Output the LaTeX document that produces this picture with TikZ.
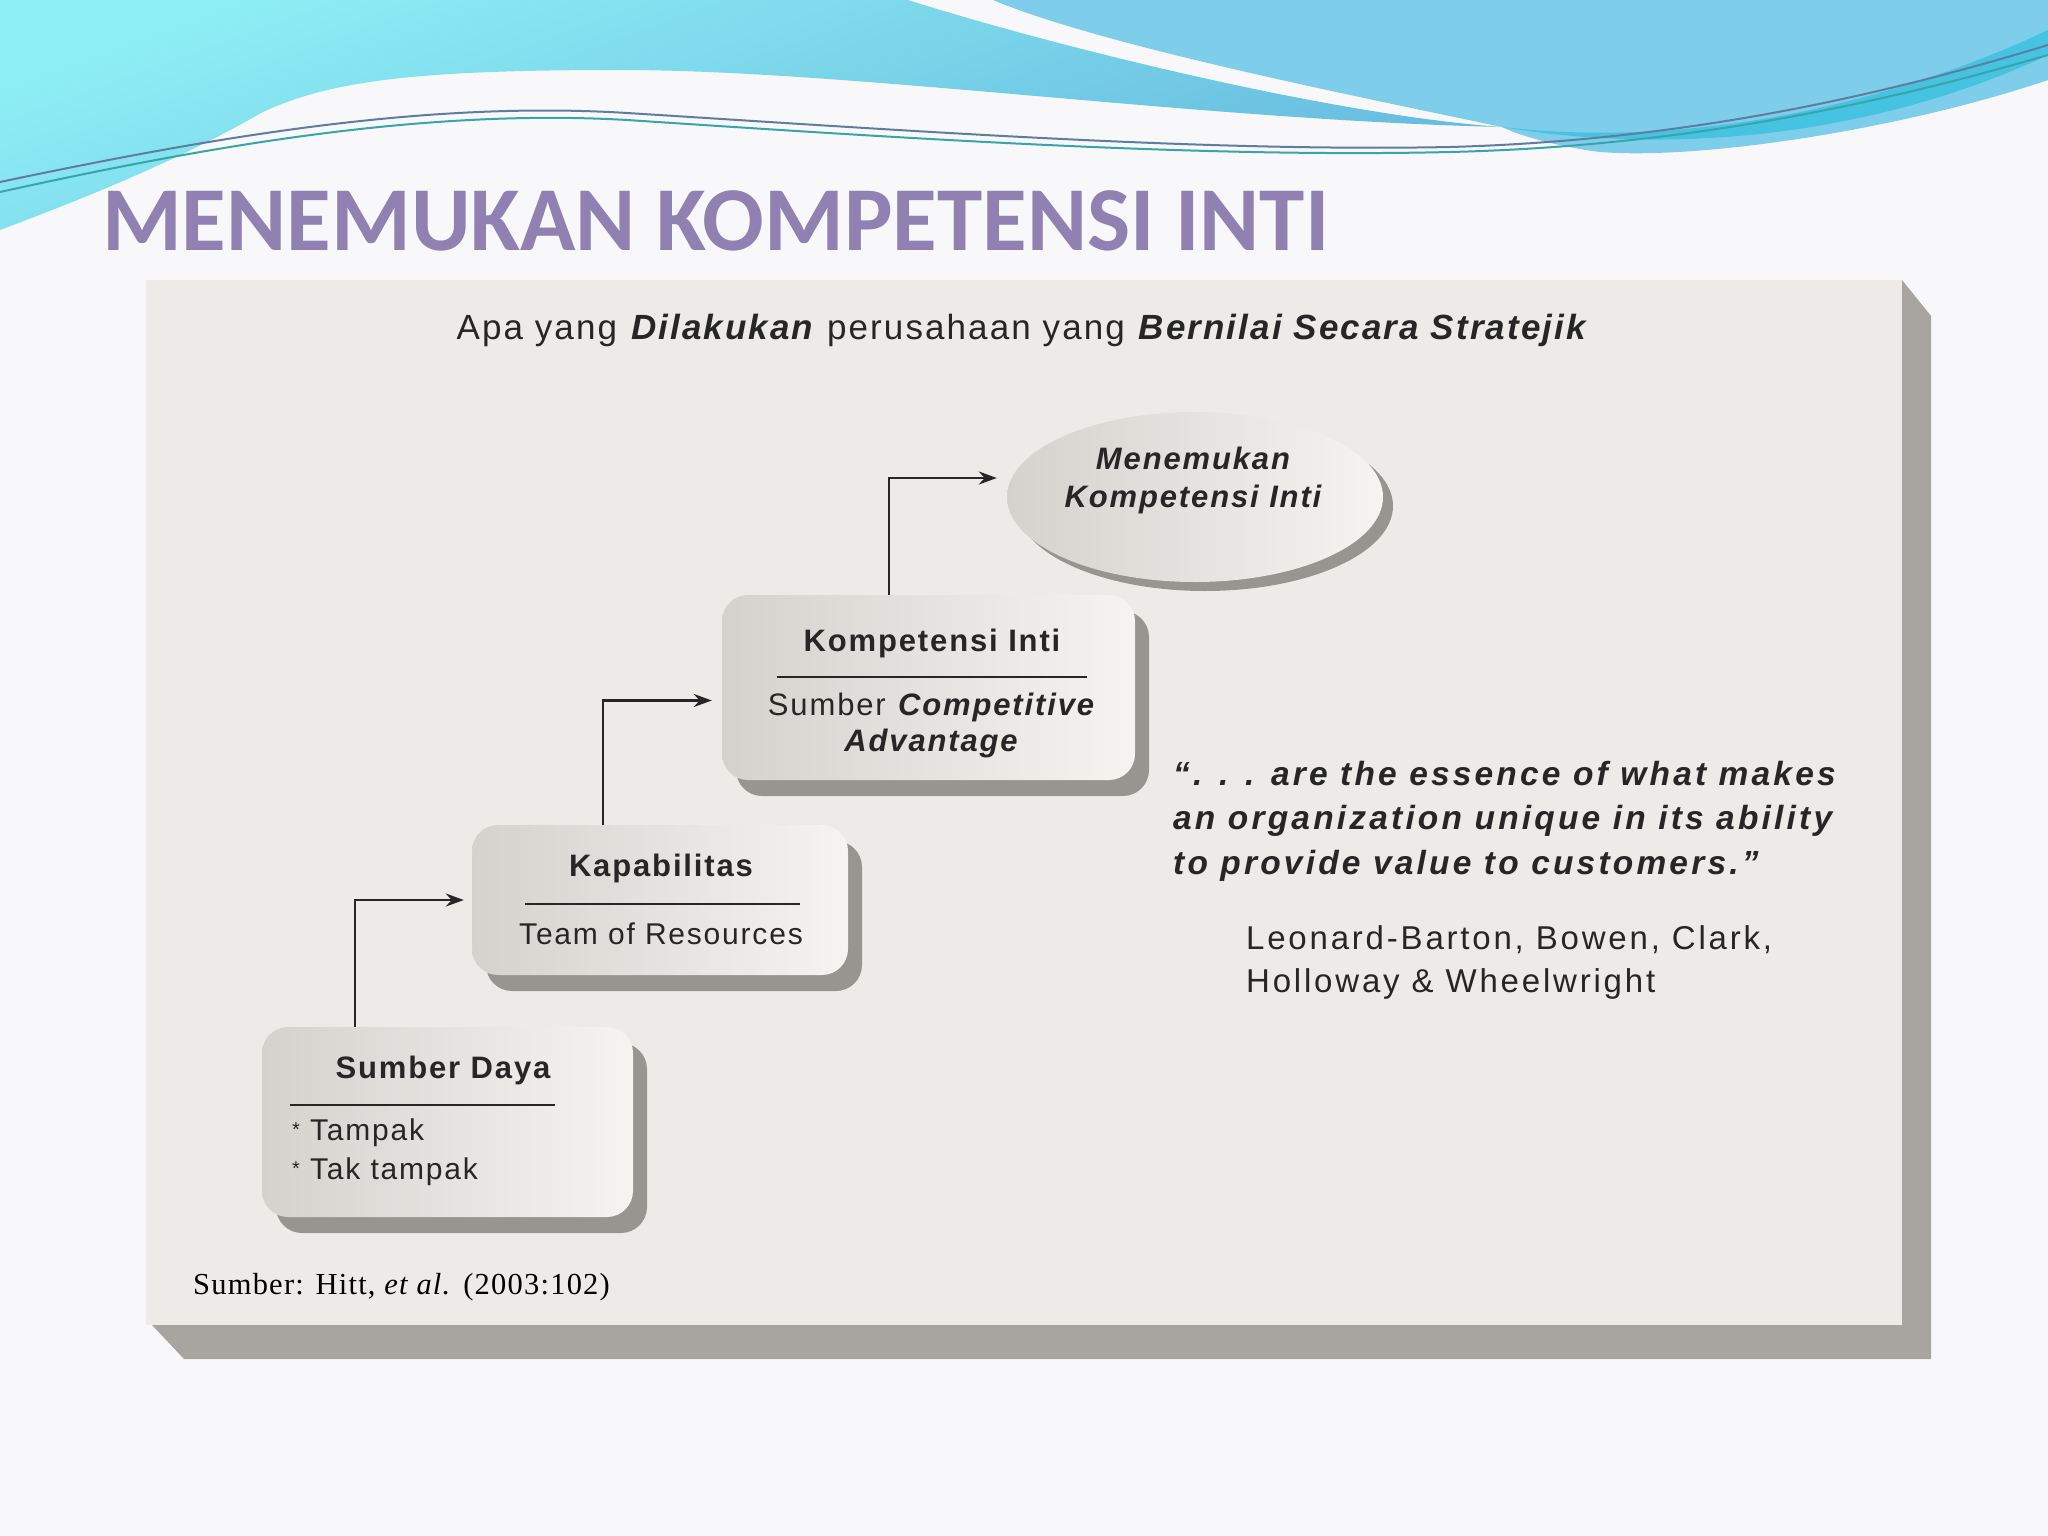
\documentclass[tikz,border=0pt]{standalone}
\usepackage{fontspec}
\setmainfont{Liberation Serif}
\setsansfont{Liberation Sans}
\newfontfamily\titlefont{Carlito}
\newfontfamily\dfont[LetterSpace=6]{Liberation Sans}
\newfontfamily\qfont[LetterSpace=9.5]{Liberation Sans}
\newfontfamily\afont[LetterSpace=8.5]{Liberation Sans}
\newfontfamily\srcfont[LetterSpace=4]{Liberation Serif}
\usetikzlibrary{arrows.meta,shadows,shapes.geometric,calc}
\definecolor{slidebg}{RGB}{248,248,250}
\definecolor{cyanA}{RGB}{142,238,245}
\definecolor{cyanB}{RGB}{100,185,222}
\definecolor{blueR}{RGB}{125,205,235}
\definecolor{ribbonA}{RGB}{70,195,225}
\definecolor{lineA}{RGB}{95,125,160}
\definecolor{lineB}{RGB}{55,165,170}
\definecolor{titlecol}{RGB}{145,128,178}
\definecolor{panel}{RGB}{236,235,231}
\definecolor{panelshadow}{RGB}{168,165,160}
\definecolor{boxface}{RGB}{245,244,241}
\definecolor{boxedge}{RGB}{212,210,205}
\definecolor{boxshadow}{RGB}{152,149,144}
\definecolor{ink}{RGB}{38,38,38}
\newcommand{\bul}{\raisebox{4pt}{\fontsize{20}{20}\selectfont *}}
\tikzset{
  txt/.style={text=ink, inner sep=0pt, align=center},
  facebox/.style={draw=none, rounded corners=26pt, inner sep=0pt,
    left color=boxedge, middle color=boxface, right color=boxface,
    drop shadow={shadow xshift=14pt, shadow yshift=-16pt, fill=boxshadow, opacity=1}},
  arr/.style={draw=ink, line width=2.6pt, -{Stealth[length=18pt,width=13pt]}},
  rulel/.style={draw=ink, line width=2.4pt},
}
\begin{document}
\begin{tikzpicture}[x=1pt,y=-1pt]
\useasboundingbox (0,0) rectangle (2048,1536);
\fill[slidebg] (0,0) rectangle (2048,1536);
% top waves
\shade[top color=cyanA, bottom color=cyanB, shading angle=20]
  (0,0) -- (908,0) .. controls (1050,45) and (1330,115) .. (1502,127)
  .. controls (1200,120) and (850,70) .. (620,70)
  .. controls (420,70) and (330,80) .. (261,113)
  .. controls (180,160) and (80,200) .. (0,230) -- cycle;
\fill[blueR] (993,0) -- (2048,0) -- (2048,80)
  .. controls (1900,130) and (1700,160) .. (1600,152)
  .. controls (1560,147) and (1520,136) .. (1502,127)
  .. controls (1350,95) and (1100,45) .. (993,0) -- cycle;
\fill[ribbonA] (1502,127) .. controls (1700,150) and (1900,100) .. (2048,30)
  -- (2048,55) .. controls (1900,125) and (1700,160) .. (1502,127) -- cycle;
\draw[lineA, line width=2pt] (0,182) .. controls (200,140) and (420,100) .. (627,113)
  .. controls (900,130) and (1200,152) .. (1450,147) .. controls (1700,140) and (1900,90) .. (2048,45);
\draw[lineB, line width=2pt] (0,192) .. controls (200,148) and (420,108) .. (627,120)
  .. controls (900,138) and (1200,158) .. (1450,152) .. controls (1700,146) and (1900,98) .. (2048,55);
% title
\node[anchor=west, inner sep=0pt, text=titlecol, font=\titlefont\bfseries\fontsize{91.3}{100}\selectfont] (title) at (102,221) {MENEMUKAN KOMPETENSI INTI};
% panel
\fill[panelshadow] (1902,280) -- (1931,316) -- (1931,1359) -- (184,1359) -- (152,1325) -- (1902,1325) -- cycle;
\fill[panel] (146,280) rectangle (1902,1325);
% header
\node[txt, font=\dfont\fontsize{35}{40}\selectfont] (head) at (1023,330)
  {Apa yang \textbf{\textit{Dilakukan}} perusahaan yang \textbf{\textit{Bernilai Secara Stratejik}}};
% ellipse
\node[ellipse, draw=none, inner sep=0pt, minimum width=376pt, minimum height=170pt,
  left color=boxedge, middle color=boxface, right color=boxface,
  drop shadow={shadow xshift=10pt, shadow yshift=-9pt, fill=boxshadow, opacity=1}] (el) at (1195,497) {};
\node[txt, font=\dfont\bfseries\itshape\fontsize{31}{38}\selectfont] (elt) at (1193,480) {Menemukan\\Kompetensi Inti};
% boxes
\node[facebox, minimum width=413pt, minimum height=185pt] (ki) at (928.5,687.5) {};
\node[facebox, minimum width=376pt, minimum height=150pt] (kp) at (660,900) {};
\node[facebox, minimum width=371pt, minimum height=190pt] (sd) at (447.5,1122) {};
% Kompetensi Inti
\node[txt, font=\dfont\bfseries\fontsize{31}{36}\selectfont] (kit) at (932,643) {Kompetensi Inti};
\draw[rulel] (777,677) -- (1087,677);
\node[txt, font=\dfont\fontsize{31}{36}\selectfont] (kib) at (932,725) {Sumber \textbf{\textit{Competitive}}\\\textbf{\textit{Advantage}}};
% Kapabilitas
\node[txt, font=\dfont\bfseries\fontsize{31}{36}\selectfont] (kpt) at (661,868) {Kapabilitas};
\draw[rulel] (525,904) -- (800,904);
\node[txt, font=\dfont\fontsize{30}{36}\selectfont] (kpb) at (661,934) {Team of Resources};
% Sumber Daya
\node[txt, font=\dfont\bfseries\fontsize{31}{36}\selectfont] (sdt) at (443,1070) {Sumber Daya};
\draw[rulel] (290,1105) -- (555,1105);
\node[txt, anchor=west, align=left, font=\dfont\fontsize{30}{39}\selectfont] (sdb) at (292,1152) {\bul\ Tampak\\\bul\ Tak tampak};
% arrows
\draw[arr] (sd.north -| 355,0) |- ([xshift=-8pt]kp.west);
\draw[arr] (kp.north -| 603,0) |- ([xshift=-10pt,yshift=-13pt]ki.west);
\draw[arr] (ki.north -| 889,0) |- ([xshift=-10pt,yshift=19pt]el.west);
% quote
\node[txt, anchor=west, align=left, font=\qfont\bfseries\itshape\fontsize{33.5}{44.5}\selectfont] (quote) at (1173,821)
  {“. . . are the essence of what makes\\an organization unique in its ability\\to provide value to customers.”};
\node[txt, anchor=west, align=left, font=\afont\fontsize{33}{43}\selectfont] (auth) at (1246,962)
  {Leonard-Barton, Bowen, Clark,\\Holloway \& Wheelwright};
% source
\node[txt, anchor=west, text=black, font=\srcfont\fontsize{30.5}{34}\selectfont] (src) at (193,1287) {Sumber: Hitt, \textit{et al.} (2003:102)};
\end{tikzpicture}
\end{document}
